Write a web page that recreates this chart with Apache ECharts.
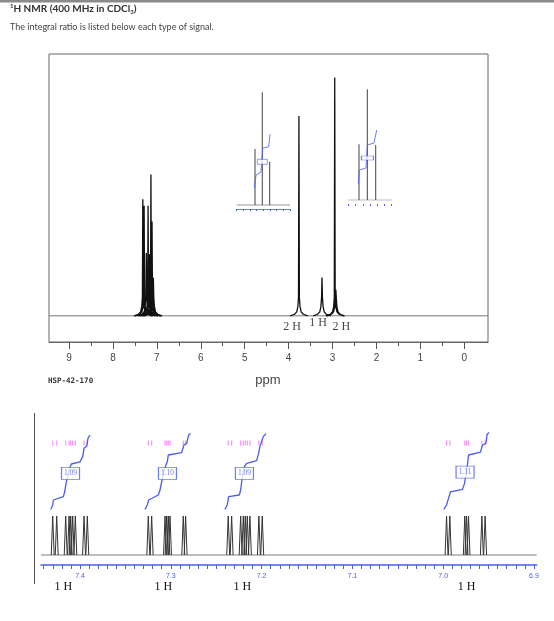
<!DOCTYPE html>
<html>
<meta charset="UTF-8">
<title>nmr-spectrum</title>
<style type="text/css">
    html,
    body {
        margin: 0px;
        width: 100%;
        height: 100%;
        background: #fff;
    }

    #chart {
        width: 554px;
        height: 621px;
    }
</style>
<script src="https://cdn.jsdelivr.net/npm/echarts@6/dist/echarts.min.js"></script>

<body>
    <div id="chart"></div>
    <script>
        // full spectrum, [ppm, height]
        const mainPeaks = [
            [7.32, 0.445], [7.29, 0.42], [7.24, 0.24], [7.20, 0.42],
            [7.17, 0.235], [7.135, 0.54], [7.11, 0.36], [7.08, 0.145],
            [3.765, 0.763], [3.24, 0.146], [2.95, 0.91], [2.925, 0.10]
        ];
        // line foot, [ppm offset, height]
        const peakFoot = [[0.2, 0], [0.1, 0.006], [0.05, 0.015], [0.025, 0.035], [0.01, 0.07]];
        const mainTicks = [0, 1, 2, 3, 4, 5, 6, 7, 8, 9];
        const mainMinorTicks = [0.5, 1.5, 2.5, 3.5, 4.5, 5.5, 6.5, 7.5, 8.5];
        const mainHLabels = ['2 H', '1 H', '2 H'];
        const mainHAt = [[3.92, -0.043], [3.33, -0.028], [2.80, -0.043]];

        // insets (expansions), [ppm, height]
        const inset1Peaks = [[3.7725, 0.56], [3.7616, 1.127], [3.7505, 0.433]];
        const inset1Integral = [[3.7736, 0.167], [3.771, 0.30], [3.7635, 0.33], [3.761, 0.567], [3.752, 0.583], [3.75, 0.707]];
        const inset1Box = [3.7616, 0.432];
        const inset2Peaks = [[2.9652, 0.557], [2.9537, 1.107], [2.9421, 0.55]];
        const inset2Integral = [[2.9662, 0.16], [2.9648, 0.30], [2.9555, 0.32], [2.9537, 0.55], [2.9445, 0.57], [2.9407, 0.70]];
        const inset2Box = [2.9535, 0.42];

        // expanded aromatic region
        const groupPeaks = [
            [7.4301, 7.4257, 7.4158, 7.4121, 7.4103, 7.4081, 7.4052, 7.3956, 7.392],
            [7.3248, 7.3211, 7.3064, 7.3046, 7.3028, 7.3009, 7.2863, 7.2837],
            [7.2368, 7.233, 7.2231, 7.2202, 7.218, 7.2158, 7.2129, 7.203, 7.1993],
            [6.9963, 6.9927, 6.9762, 6.9743, 6.9721, 6.9574, 6.9538]
        ];
        const groupPeakHeight = 0.975;
        const groupIntegrals = [
            [[7.4323, 1.14], [7.4301, 1.25], [7.4294, 1.375], [7.4184, 1.46], [7.4169, 1.58], [7.4154, 1.79], [7.414, 1.96], [7.411, 2.19], [7.4096, 2.275], [7.40, 2.33], [7.3971, 2.46], [7.3956, 2.67], [7.3926, 2.725], [7.3912, 2.92], [7.389, 3.0]],
            [[7.3285, 1.14], [7.3259, 1.25], [7.3244, 1.375], [7.3138, 1.5], [7.3119, 1.625], [7.3097, 1.875], [7.3064, 2.19], [7.3039, 2.33], [7.3028, 2.5], [7.2881, 2.56], [7.2855, 2.75], [7.2826, 2.79], [7.2804, 3.0], [7.2782, 3.04]],
            [[7.2404, 1.14], [7.2379, 1.25], [7.2363, 1.46], [7.2246, 1.5], [7.2231, 1.625], [7.2217, 1.875], [7.2195, 2.19], [7.2165, 2.29], [7.2055, 2.36], [7.2033, 2.54], [7.2019, 2.71], [7.1997, 2.75], [7.1982, 2.96], [7.1952, 3.03]],
            [[6.9993, 1.14], [6.9963, 1.25], [6.9945, 1.39], [6.9919, 1.58], [6.9787, 1.64], [6.9765, 1.79], [6.9736, 2.2], [6.9721, 2.5], [6.9589, 2.57], [6.9567, 2.75], [6.953, 2.79], [6.9516, 3.02], [6.9494, 3.06]]
        ];
        const groupIntegralValues = ['1.09', '1.10', '1.09', '1.11'];
        const groupBoxAt = [[7.4105, 2.04], [7.3037, 2.04], [7.2189, 2.04], [6.9759, 2.07]];
        const groupHLabels = ['1 H', '1 H', '1 H', '1 H'];
        const groupHAt = [7.4184, 7.3083, 7.2213, 6.9743];
        const groupTicks = [7.4, 7.3, 7.2, 7.1, 7.0, 6.9];
        const markLevel = 2.8;

        const BLUE = '#4b5cf0';
        const GAP = ['-', '-'];

        function spike(p, h) {
            const left = peakFoot.map(([d, v]) => [p + d, v]);
            const right = peakFoot.slice().reverse().map(([d, v]) => [p - d, v]);
            return left.concat([[p, h]], right, [GAP]);
        }
        function sticks(peaks) {
            const out = [];
            peaks.forEach(([p, h]) => { out.push([p, 0], [p, h], GAP); });
            return out;
        }
        function triangle(p, h) {
            return [[p + 0.0016, 0], [p, h], [p - 0.0016, 0], GAP];
        }

        const mainTrace = [];
        mainPeaks.forEach(([p, h]) => mainTrace.push(...spike(p, h)));

        const groupTrace = [];
        const groupMarks = [];
        groupPeaks.forEach(g => g.forEach(p => {
            groupTrace.push(...triangle(p, groupPeakHeight));
            groupMarks.push([p, markLevel]);
        }));
        const groupIntegralTrace = [];
        groupIntegrals.forEach(g => { groupIntegralTrace.push(...g, GAP); });

        const minorTicks = [];
        for (let i = 0; i <= 54; i++) minorTicks.push(+(6.9 + i * 0.01).toFixed(2));

        const chart = echarts.init(document.querySelector('#chart'));

        const hiddenY = (gi, min, max) => ({
            gridIndex: gi, type: 'value', min: min, max: max, show: false,
            splitLine: { show: false }
        });

        const options = {
            animation: false,
            grid: [
                { left: 49, top: 54, width: 439, height: 288, show: true, borderColor: '#666', borderWidth: 1 },
                { left: 236.7, top: 80, width: 53.3, height: 129 },
                { left: 348.3, top: 75, width: 43.4, height: 129 },
                { left: 41, top: 420, width: 495.7, height: 145 }
            ],
            xAxis: [
                {
                    gridIndex: 0, type: 'value', inverse: true, min: -0.54, max: 9.456, position: 'bottom',
                    axisLine: { show: true, onZero: false, lineStyle: { color: '#666' } },
                    axisTick: { show: true, customValues: mainTicks, length: 7, lineStyle: { color: '#555' } },
                    axisLabel: { customValues: mainTicks, margin: 11, color: '#444', fontSize: 10, fontFamily: 'Liberation Sans' },
                    splitLine: { show: false }
                },
                {
                    gridIndex: 0, type: 'value', inverse: true, min: -0.54, max: 9.456, position: 'bottom',
                    axisLine: { show: false, onZero: false },
                    axisTick: { show: true, customValues: mainMinorTicks, length: 4, lineStyle: { color: '#555' } },
                    axisLabel: { show: false },
                    splitLine: { show: false }
                },
                {
                    gridIndex: 1, type: 'value', inverse: true, min: 3.72, max: 3.80, interval: 0.01, position: 'bottom',
                    axisLine: { onZero: false, lineStyle: { color: BLUE, width: 0.8 } },
                    axisTick: { length: 2, lineStyle: { color: BLUE } },
                    axisLabel: { show: false }, splitLine: { show: false }
                },
                {
                    gridIndex: 2, type: 'value', inverse: true, min: 2.92, max: 2.98, interval: 0.01, position: 'bottom',
                    axisLine: { show: false, onZero: false },
                    axisTick: { length: 2, lineStyle: { color: BLUE } },
                    axisLabel: { show: false }, splitLine: { show: false }
                },
                {
                    gridIndex: 3, type: 'value', inverse: true, min: 6.897, max: 7.443, position: 'bottom',
                    axisLine: { onZero: false, lineStyle: { color: BLUE, width: 1.5 } },
                    axisTick: { customValues: minorTicks, length: 4, lineStyle: { color: BLUE } },
                    axisLabel: {
                        customValues: groupTicks, margin: 8, color: BLUE, fontSize: 7,
                        fontFamily: 'Liberation Sans', formatter: v => v.toFixed(1)
                    },
                    splitLine: { show: false }
                }
            ],
            yAxis: [
                hiddenY(0, -0.1, 1.0),
                hiddenY(1, -0.04, 1.25),
                hiddenY(2, -0.04, 1.25),
                hiddenY(3, -0.25, 3.375)
            ],
            series: [
                // main spectrum
                {
                    type: 'line', xAxisIndex: 0, yAxisIndex: 0, data: [[9.456, 0], [-0.54, 0]],
                    symbol: 'none', lineStyle: { color: '#777', width: 1 }, silent: true
                },
                {
                    type: 'line', xAxisIndex: 0, yAxisIndex: 0, data: mainTrace, symbol: 'none',
                    connectNulls: false, lineStyle: { color: '#111', width: 1.3 }
                },
                {
                    type: 'scatter', xAxisIndex: 0, yAxisIndex: 0, symbolSize: 0,
                    data: mainHAt.map((d, i) => ({ value: d, name: mainHLabels[i] })),
                    label: {
                        show: true, position: 'inside', formatter: p => p.name,
                        color: '#111', fontSize: 12, fontFamily: 'Liberation Serif'
                    }
                },
                // inset 1
                {
                    type: 'line', xAxisIndex: 2, yAxisIndex: 1, data: [[3.80, 0], [3.72, 0]],
                    symbol: 'none', lineStyle: { color: '#999', width: 1.2 }
                },
                {
                    type: 'line', xAxisIndex: 2, yAxisIndex: 1, data: sticks(inset1Peaks), symbol: 'none',
                    lineStyle: { color: '#444', width: 1 }
                },
                {
                    type: 'line', xAxisIndex: 2, yAxisIndex: 1, data: inset1Integral, symbol: 'none',
                    lineStyle: { color: BLUE, width: 0.8 }
                },
                {
                    type: 'scatter', xAxisIndex: 2, yAxisIndex: 1, data: [inset1Box], symbol: 'rect',
                    symbolSize: [10, 5], itemStyle: { color: '#fff', borderColor: BLUE, borderWidth: 0.7 }, z: 3
                },
                // inset 2
                {
                    type: 'line', xAxisIndex: 3, yAxisIndex: 2, data: [[2.98, 0], [2.92, 0]],
                    symbol: 'none', lineStyle: { color: '#bbb', width: 1.2 }
                },
                {
                    type: 'line', xAxisIndex: 3, yAxisIndex: 2, data: sticks(inset2Peaks), symbol: 'none',
                    lineStyle: { color: '#444', width: 1 }
                },
                {
                    type: 'line', xAxisIndex: 3, yAxisIndex: 2, data: inset2Integral, symbol: 'none',
                    lineStyle: { color: BLUE, width: 0.8 }
                },
                {
                    type: 'scatter', xAxisIndex: 3, yAxisIndex: 2, data: [inset2Box], symbol: 'rect',
                    symbolSize: [12, 4], itemStyle: { color: '#fff', borderColor: BLUE, borderWidth: 0.7 }, z: 3
                },
                // expanded region
                {
                    type: 'line', xAxisIndex: 4, yAxisIndex: 3, data: [[7.443, 0], [6.897, 0]],
                    symbol: 'none', lineStyle: { color: '#aaa', width: 1.5 }
                },
                {
                    type: 'line', xAxisIndex: 4, yAxisIndex: 3, data: groupTrace, symbol: 'none',
                    lineStyle: { color: '#333', width: 1 }
                },
                {
                    type: 'scatter', xAxisIndex: 4, yAxisIndex: 3, data: groupMarks, symbol: 'rect',
                    symbolSize: [1.2, 5], itemStyle: { color: '#f27cf2' }
                },
                {
                    type: 'line', xAxisIndex: 4, yAxisIndex: 3, data: groupIntegralTrace, symbol: 'none',
                    lineStyle: { color: BLUE, width: 1.3 }
                },
                {
                    type: 'scatter', xAxisIndex: 4, yAxisIndex: 3, symbol: 'rect', symbolSize: [18, 12], z: 3,
                    data: groupBoxAt.map((d, i) => ({ value: d, name: groupIntegralValues[i] })),
                    itemStyle: { color: '#fff', borderColor: BLUE, borderWidth: 1 },
                    label: {
                        show: true, position: 'inside', formatter: p => p.name,
                        color: BLUE, fontSize: 7.5, fontFamily: 'Liberation Serif'
                    }
                }
            ]
        };
        chart.setOption(options);

        const graphics = [
            {
                type: 'rect', shape: { x: 0, y: 0, width: 554, height: 2.5 },
                style: { fill: '#8a8a8a' }
            },
            {
                type: 'text', x: 10, y: 3,
                style: {
                    text: '{s|1}{t|H NMR (400 MHz in CDCl}{b|3}{t|)}',
                    fill: '#333',
                    rich: {
                        t: { fontSize: 10, fontWeight: 'bold', fontFamily: 'Lato', lineHeight: 12, fill: '#333' },
                        s: { fontSize: 6, fontWeight: 'bold', fontFamily: 'Lato', lineHeight: 12, verticalAlign: 'top', fill: '#333' },
                        b: { fontSize: 6, fontWeight: 'bold', fontFamily: 'Lato', lineHeight: 12, verticalAlign: 'bottom', fill: '#333' }
                    }
                }
            },
            {
                type: 'text', x: 10, y: 23,
                style: {
                    text: 'The integral ratio is listed below each type of signal.',
                    fontSize: 9, fontFamily: 'Lato', fill: '#444'
                }
            },
            {
                type: 'text', x: 268, y: 380,
                style: {
                    text: 'ppm', fontSize: 13, fontFamily: 'Liberation Sans', fill: '#444',
                    align: 'center', verticalAlign: 'middle'
                }
            },
            {
                type: 'text', x: 48, y: 381,
                style: {
                    text: 'HSP-42-170', fontSize: 7.5, fontWeight: 'bold', fontFamily: 'DejaVu Sans Mono',
                    fill: '#333', verticalAlign: 'middle'
                }
            },
            {
                type: 'line', shape: { x1: 34.5, y1: 413, x2: 34.5, y2: 584 },
                style: { stroke: '#555', lineWidth: 1 }
            }
        ];
        groupHAt.forEach((p, i) => {
            graphics.push({
                type: 'text', x: chart.convertToPixel({ xAxisIndex: 4 }, p), y: 587,
                style: {
                    text: groupHLabels[i], fontSize: 12, fontFamily: 'Liberation Serif', fill: '#111',
                    align: 'center', verticalAlign: 'middle'
                }
            });
        });
        chart.setOption({ graphic: graphics });
    </script>
</body>

</html>
